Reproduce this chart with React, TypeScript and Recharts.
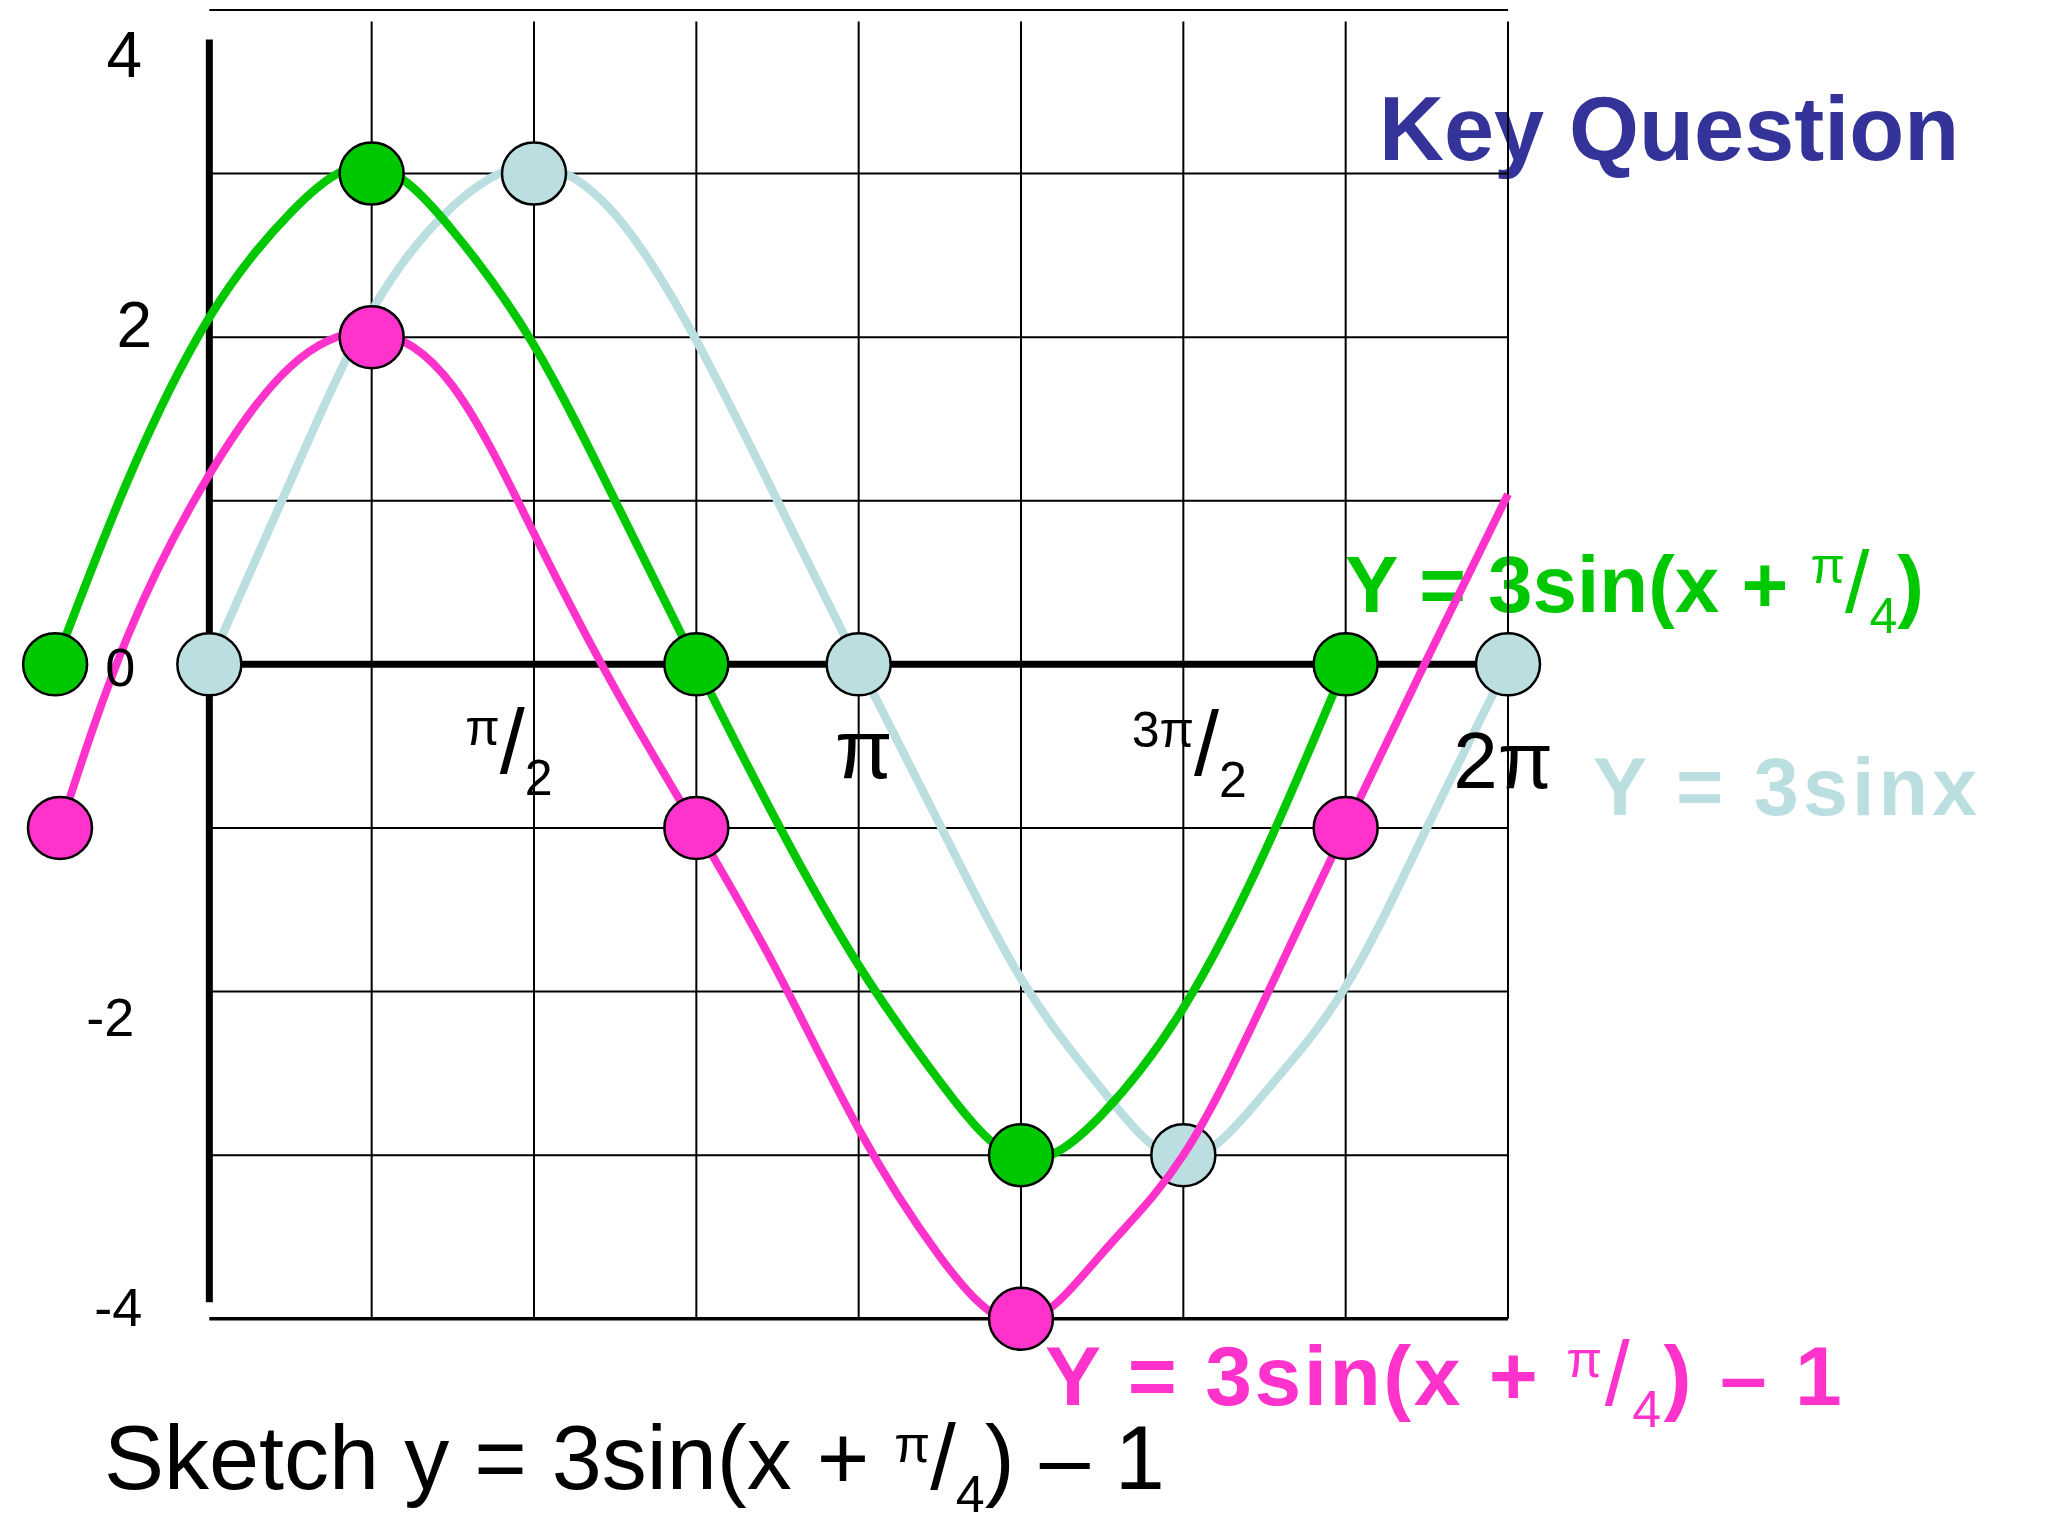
import React from "react";
import { ComposedChart, Line, Scatter, XAxis, YAxis, ReferenceLine, ReferenceDot } from "recharts";

// x is counted in steps of π/4 (1 = π/4, 8 = 2π)
const sineX = [0, 0.5, 1, 1.5, 2, 2.5, 3, 3.5, 4, 4.5, 5, 5.5, 6, 6.5, 7, 7.5, 8];
const sineY = [0, 1.12, 2.16, 2.8, 3.05, 2.75, 1.98, 1.0, 0, -0.98, -1.92, -2.6, -3.02, -2.62, -1.97, -1.0, 0];

const shiftedX = [-0.95, -0.5, 0, 0.5, 1, 1.5, 2, 2.5, 3, 3.5, 4, 4.5, 5, 5.5, 6, 6.5, 7];
const shiftedY = [0, 1.13, 2.12, 2.76, 3.05, 2.65, 1.95, 1.0, 0, -0.97, -1.84, -2.55, -3.02, -2.75, -2.1, -1.15, 0];

const answerX = [-0.92, -0.5, 0, 0.5, 1, 1.5, 2, 2.5, 3, 3.5, 4, 4.5, 5, 5.5, 6, 6.5, 7, 7.5, 8];
const answerY = [-1, 0.18, 1.16, 1.82, 2.03, 1.7, 0.8, -0.15, -1, -1.88, -2.84, -3.62, -4.02, -3.6, -3.0, -2.05, -1, 0.03, 1.04];

// the marked points on each curve
const sineDotX = [0, 2, 4, 6, 8];
const sineDotY = [0, 3, 0, -3, 0];
const shiftedDotX = [-0.95, 1, 3, 5, 7];
const shiftedDotY = [0, 3, 0, -3, 0];
const answerDotX = [-0.92, 1, 3, 5, 7];
const answerDotY = [-1, 2, -1, -4, -1];

const yTicks = [4, 2, 0, -2, -4];
const xTicks = [2, 4, 6, 8];
const xTickLabels = ["π/2", "π", "3π/2", "2π"];

const gridX = [1, 2, 3, 4, 5, 6, 7, 8];
const gridY = [-4, -3, -2, -1, 0, 1, 2, 3, 4];

const GREEN = "#00c800";
const PINK = "#ff33cc";
const BLUE = "#bbdfe1";
const NAVY = "#333399";
const FONT = "'Liberation Sans', Arial, sans-serif";

// label nudges, the slide's labels are placed by hand
const yLabelStyle: Record<number, { dx: number; dy: number; size: number }> = {
  4: { dx: -85, dy: 45, size: 64 },
  2: { dx: -75, dy: -12, size: 64 },
  0: { dx: -89, dy: 3, size: 54 },
  [-2]: { dx: -99, dy: 25, size: 54 },
  [-4]: { dx: -91, dy: -12, size: 54 },
};
const xLabelStyle: Record<number, { dx: number; dy: number; size: number }> = {
  2: { dx: -25, dy: 109, size: 50 },
  4: { dx: 5, dy: 114, size: 84 },
  6: { dx: 6, dy: 111, size: 50 },
  8: { dx: -5, dy: 124, size: 80 },
};

const zip = (xs: number[], ys: number[]) => xs.map((x, i) => ({ x, y: ys[i] }));

function dotShape(fill: string) {
  return (p: any) => (
    <ellipse cx={p.cx} cy={p.cy} rx={32} ry={31} fill={fill} stroke="#000" strokeWidth={2.5} />
  );
}

function YLabel(v: number) {
  const s = yLabelStyle[v];
  return (p: any) => (
    <text
      x={p.cx + s.dx}
      y={p.cy + s.dy}
      textAnchor="middle"
      dominantBaseline="central"
      fontFamily={FONT}
      fontSize={s.size}
      fill="#000"
    >
      {String(v)}
    </text>
  );
}

function XLabel(v: number, label: string) {
  const s = xLabelStyle[v];
  const parts = label.split("/");
  return (p: any) => (
    <text x={p.cx + s.dx} y={p.cy + s.dy} textAnchor="middle" fontFamily={FONT} fontSize={s.size} fill="#000">
      {parts.length === 1 ? (
        parts[0]
      ) : (
        <>
          <tspan dy={-28}>{parts[0]}</tspan>
          <tspan fontSize={90} dy={28}>/</tspan>
          <tspan dy={22}>{parts[1]}</tspan>
        </>
      )}
    </text>
  );
}

// "π/4" written as a slide fraction inside a title
function Quarter({ up, down, size = 50, slash = 88 }: { up: number; down: number; size?: number; slash?: number }) {
  return (
    <>
      <tspan fontSize={size} fontWeight="normal" dy={-up}>π</tspan>
      <tspan fontSize={slash} fontWeight="normal" dy={up}>/</tspan>
      <tspan fontSize={size} fontWeight="normal" dy={down}>4</tspan>
    </>
  );
}

export default function App() {
  return (
    <div style={{ position: "absolute", left: 0, top: 0, width: 2048, height: 1536, background: "#fff" }}>
      <ComposedChart width={2048} height={1536} margin={{ top: 10, right: 540, bottom: 214, left: 47 }}>
        <XAxis type="number" dataKey="x" domain={[-1, 8]} hide />
        <YAxis type="number" dataKey="y" domain={[-4, 4]} hide />

        {gridX.map((x) => (
          <ReferenceLine key={"gx" + x} segment={[{ x, y: -4 }, { x, y: 3.93 }]} stroke="#000" strokeWidth={2} />
        ))}
        {gridY.map((y) => (
          <ReferenceLine
            key={"gy" + y}
            segment={[{ x: 0, y }, { x: 8, y }]}
            stroke="#000"
            strokeWidth={y === 0 ? 7 : y === -4 ? 3.5 : 2}
          />
        ))}
        <ReferenceLine segment={[{ x: 0, y: -3.9 }, { x: 0, y: 3.82 }]} stroke="#000" strokeWidth={7} />

        {/* white panels behind the titles hide the grid there */}
        <g>
          <rect x={1352} y={62} width={615} height={125} fill="#fff" />
          <rect x={1342} y={533} width={600} height={100} fill="#fff" />
          <text x={1379} y={160} fontFamily={FONT} fontSize={90} fontWeight="bold" fill={NAVY}>
            Key Question
          </text>
          <text x={1345} y={612} fontFamily={FONT} fontSize={80} fontWeight="bold" fill={GREEN}>
            {"Y = 3sin(x + "}
            <Quarter up={29} down={21} />
            <tspan dy={-21}>)</tspan>
          </text>
          <text x={1593} y={815} fontFamily={FONT} fontSize={81} fontWeight="bold" fill={BLUE} letterSpacing={4}>
            Y = 3sinx
          </text>
          <text x={1045} y={1405} fontFamily={FONT} fontSize={84} fontWeight="bold" fill={PINK} letterSpacing={2.5}>
            {"Y = 3sin(x + "}
            <Quarter up={28} down={22} size={52} slash={90} />
            <tspan dy={-22}>{") – 1"}</tspan>
          </text>
          <text x={104} y={1489} fontFamily={FONT} fontSize={90} fill="#000">
            {"Sketch y = 3sin(x + "}
            <Quarter up={27} down={23} size={52} slash={92} />
            <tspan dy={-23}>{") – 1"}</tspan>
          </text>
        </g>

        {yTicks.map((v) => (
          <ReferenceDot key={"yl" + v} x={0} y={v} r={0} shape={YLabel(v)} />
        ))}
        {xTicks.map((v, i) => (
          <ReferenceDot key={"xl" + v} x={v} y={0} r={0} shape={XLabel(v, xTickLabels[i])} />
        ))}

        <Line
          data={zip(sineX, sineY)}
          dataKey="y"
          type="natural"
          stroke={BLUE}
          strokeWidth={8.5}
          dot={false}
          zIndex={400}
          isAnimationActive={false}
        />
        <Scatter
          data={zip(sineDotX, sineDotY)}
          fill={BLUE}
          shape={dotShape(BLUE)}
          zIndex={410}
          isAnimationActive={false}
        />
        <Line
          data={zip(shiftedX, shiftedY)}
          dataKey="y"
          type="natural"
          stroke={GREEN}
          strokeWidth={8.5}
          dot={false}
          zIndex={420}
          isAnimationActive={false}
        />
        <Scatter
          data={zip(shiftedDotX, shiftedDotY)}
          fill={GREEN}
          shape={dotShape(GREEN)}
          zIndex={430}
          isAnimationActive={false}
        />
        <Line
          data={zip(answerX, answerY)}
          dataKey="y"
          type="natural"
          stroke={PINK}
          strokeWidth={8}
          dot={false}
          zIndex={440}
          isAnimationActive={false}
        />
        <Scatter
          data={zip(answerDotX, answerDotY)}
          fill={PINK}
          shape={dotShape(PINK)}
          zIndex={450}
          isAnimationActive={false}
        />
      </ComposedChart>
    </div>
  );
}
